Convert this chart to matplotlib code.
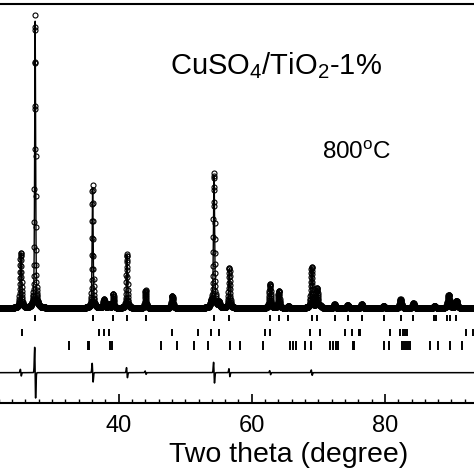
"""Rietveld refinement plot for CuSO4/TiO2-1% calcined at 800 C.

Observed points (open circles), calculated profile (line), Bragg
position rows for the three refined phases and the difference curve.
"""

import numpy as np
import matplotlib
matplotlib.use("Agg")
import matplotlib.pyplot as plt
from matplotlib.ticker import MultipleLocator

plt.rcParams["font.family"] = ["Liberation Sans", "DejaVu Sans"]
plt.rcParams["mathtext.fontset"] = "custom"
plt.rcParams["mathtext.rm"] = "Liberation Sans"
plt.rcParams["mathtext.it"] = "Liberation Sans:italic"

# Reflections: position (deg), height (counts), FWHM (deg)
PEAK_POS = [25.30, 27.45, 36.09, 37.80, 38.58, 39.19, 41.25, 44.05, 48.05,
            53.89, 54.33, 55.06, 56.64, 62.69, 62.76, 64.06, 65.50, 69.01,
            69.80, 70.30, 72.43, 74.41, 76.52, 79.83, 82.35, 84.27, 87.46,
            89.58, 90.73]
PEAK_HEIGHT = [1650, 8700, 3650, 260, 120, 430, 1600, 520, 370,
               130, 4000, 160, 1180, 110, 600, 520, 60, 1220,
               580, 60, 110, 90, 120, 70, 260, 140, 70,
               400, 220]
PEAK_FWHM = [0.24, 0.17, 0.18, 0.26, 0.26, 0.20, 0.19, 0.21, 0.27,
             0.28, 0.21, 0.28, 0.22, 0.30, 0.24, 0.24, 0.25, 0.26,
             0.26, 0.30, 0.27, 0.28, 0.28, 0.29, 0.30, 0.31, 0.32,
             0.34, 0.34]
BACKGROUND = 300

# Misfit (obs - calc) at the strongest reflections: position, amplitude
MISFIT_POS = [25.30, 27.45, 36.09, 41.25, 44.05, 54.33, 56.64, 62.76, 69.01]
MISFIT_AMP = [100, 760, 280, 150, 50, 310, 120, 60, 80]

# Bragg positions for the three phases (one row each)
TICKS_PHASE1 = [27.45, 36.09, 39.19, 41.25, 44.05, 54.33, 56.64, 62.76,
                64.06, 65.50, 69.01, 69.80, 72.43, 74.41, 76.52, 79.83,
                82.35, 84.27, 87.40, 87.75, 89.35, 89.80, 90.73]
TICKS_PHASE2 = [25.43, 37.05, 37.85, 38.60, 48.06, 51.97, 53.88, 55.08,
                62.04, 62.79, 68.80, 70.30, 74.06, 75.06, 76.10, 76.25,
                80.82, 82.32, 82.65, 83.00, 83.32, 92.15, 93.25]
TICKS_PHASE3 = [32.54, 35.38, 35.50, 38.75, 38.95, 46.32, 48.82, 51.32,
                53.38, 56.73, 58.28, 61.69, 65.80, 66.20, 66.60, 68.05,
                68.90, 71.80, 72.20, 72.60, 73.00, 75.22, 75.40, 79.83,
                80.58, 82.55, 82.85, 83.15, 83.45, 83.75, 86.75, 88.05,
                89.82, 91.60]

X_TICKS = [40, 60, 80]


def profile(x, positions, heights, widths, eta=0.5):
    y = np.zeros_like(x)
    for p, h, w in zip(positions, heights, widths):
        d = (x - p) / w
        y += h * (eta / (1 + 4 * d ** 2) + (1 - eta) * np.exp(-4 * np.log(2) * d ** 2))
    return y


def misfit(x, positions, amps, width=0.07):
    y = np.zeros_like(x)
    for p, a in zip(positions, amps):
        d = (x - p) / width
        y += -a * d * np.exp(0.5 - 0.5 * d ** 2)
    return y


two_theta = np.arange(20.0, 100.0, 0.02)
calc = BACKGROUND + profile(two_theta, PEAK_POS, PEAK_HEIGHT, PEAK_FWHM)
diff = misfit(two_theta, MISFIT_POS, MISFIT_AMP)
obs = calc + diff

fig = plt.figure(figsize=(4.74, 4.74), dpi=100)
# The published figure is cropped: the frame runs past the left/right edges
ax = fig.add_axes([-81.0 / 474, 71.0 / 474, 599.0 / 474, 399.0 / 474])

ax.plot(two_theta, obs, "o", ms=3.6, mfc="none", mec="black", mew=0.8)
ax.plot(two_theta, calc, color="black", lw=1.0)

ax.vlines(TICKS_PHASE1, -100, 100, color="black", lw=1.4)
ax.vlines(TICKS_PHASE2, -540, -320, color="black", lw=1.4)
ax.vlines(TICKS_PHASE3, -950, -690, color="black", lw=1.4)

ax.plot(two_theta, diff - 1640, color="black", lw=1.1)

ax.set_xlim(10, 100)
ax.set_ylim(-2550, 9420)

ax.set_xticks(X_TICKS)
ax.xaxis.set_minor_locator(MultipleLocator(2))
ax.tick_params(axis="x", which="major", direction="in", length=6.5, width=1.2,
               labelsize=17, pad=9)
ax.tick_params(axis="x", which="minor", direction="in", length=3.2, width=1.0)
ax.set_yticks([])

for side in ("left", "right"):
    ax.spines[side].set_visible(False)
ax.spines["top"].set_linewidth(1.5)
ax.spines["bottom"].set_linewidth(1.5)

fig.text(288.5 / 474, 1 - 462.0 / 474, "Two theta (degree)", fontsize=20.5,
         ha="center", va="baseline")
fig.text(170.0 / 474, 1 - 74.0 / 474, "CuSO$_4$/TiO$_2$-1%", fontsize=21,
         ha="left", va="baseline")
fig.text(322.0 / 474, 1 - 159.0 / 474, "800$^{\\rm o}$C", fontsize=17.5,
         ha="left", va="baseline")

fig.savefig("out.png", dpi=100)
